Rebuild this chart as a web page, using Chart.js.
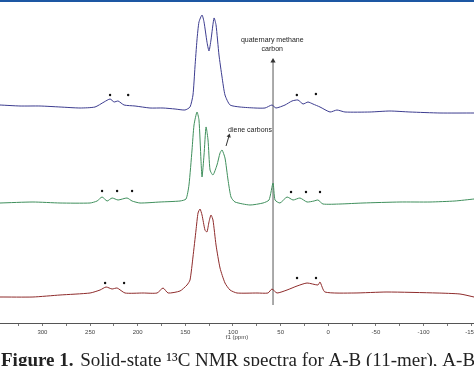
<!DOCTYPE html>
<html>
<head>
<meta charset="utf-8">
<script src="https://cdn.jsdelivr.net/npm/chart.js@4.4.1/dist/chart.umd.min.js"></script>
<style>
  body { margin: 0; background: #fff; }
  #wrap { width: 474px; height: 366px; position: relative; }
</style>
</head>
<body>
<div id="wrap"><canvas id="nmr"></canvas></div>
<script>
// spectra: [ppm, height above the axis] (stacked traces)
const blueTrace = [
  [344.5, 218], [323.5, 217], [302.5, 217], [281.5, 216], [260.5, 215], [244.8, 216],
  [235.3, 221], [229.0, 224], [224.8, 221], [220.6, 222], [214.3, 218], [202.8, 217],
  [187.1, 215], [173.4, 215], [160.8, 214], [150.4, 213], [145.1, 216], [142.0, 228],
  [139.9, 256], [137.8, 283], [135.7, 301], [132.5, 308], [130.4, 301], [127.3, 281],
  [125.2, 272], [123.1, 283], [119.9, 305], [117.8, 298], [114.7, 268], [111.5, 246],
  [108.4, 228], [103.1, 218], [92.6, 216], [76.9, 215], [66.4, 215], [59.1, 218],
  [54.9, 215], [45.4, 218], [38.1, 222], [31.8, 223], [26.5, 219], [21.3, 221],
  [16.1, 219], [8.7, 216], [-1.8, 211], [-9.1, 213], [-17.5, 211], [-43.7, 211],
  [-64.7, 212], [-85.7, 211], [-117.2, 210], [-152.9, 210]
];
const greenTrace = [
  [344.5, 120], [309.9, 121], [281.5, 120], [250.0, 120], [242.6, 122], [237.4, 126],
  [232.1, 122], [226.9, 125], [220.6, 123], [211.2, 125], [205.9, 122], [197.6, 120],
  [176.6, 121], [155.6, 122], [149.3, 124], [146.2, 138], [143.0, 173], [140.9, 198],
  [137.8, 211], [135.7, 203], [133.6, 163], [132.5, 146], [130.4, 168], [128.3, 196],
  [126.2, 183], [124.1, 153], [121.0, 148], [116.8, 158], [113.6, 170], [111.5, 173],
  [108.4, 165], [105.2, 143], [102.1, 126], [97.9, 121], [82.2, 118], [68.5, 120],
  [62.2, 123], [58.0, 140], [55.9, 123], [50.7, 120], [43.3, 126], [37.0, 123],
  [29.7, 125], [22.3, 121], [15.0, 122], [10.8, 123], [5.6, 119], [-12.3, 119],
  [-36.4, 120], [-75.2, 121], [-106.7, 121], [-132.9, 122], [-152.9, 124]
];
const redTrace = [
  [344.5, 26], [309.9, 26], [281.5, 28], [250.0, 30], [239.5, 33], [233.2, 36],
  [226.9, 34], [221.6, 35], [213.3, 30], [194.4, 30], [179.7, 30], [173.4, 35],
  [168.1, 30], [155.6, 32], [148.3, 38], [145.1, 43], [142.0, 66], [138.8, 93],
  [136.7, 110], [134.6, 114], [132.5, 108], [129.4, 93], [127.3, 91], [125.2, 101],
  [123.1, 108], [121.0, 103], [117.8, 78], [113.6, 55], [108.4, 40], [103.1, 33],
  [95.8, 30], [74.8, 30], [63.3, 30], [59.1, 34], [53.8, 30], [43.3, 33],
  [32.8, 37], [22.3, 40], [10.8, 38], [8.7, 41], [3.5, 31], [-26.9, 30],
  [-61.6, 31], [-114.1, 30], [-138.2, 29], [-152.9, 26]
];
// spinning sidebands (asterisks)
const blueStars = [[229.0, 228], [210.0, 228], [33.0, 228], [13.0, 229]];
const greenStars = [[237.4, 132], [221.6, 132], [205.9, 132], [39.1, 131], [23.4, 131], [8.7, 131]];
const redStars = [[234.2, 40], [214.3, 40], [32.8, 45], [12.9, 45]];
// annotation arrows
const quaternaryArrow = [[58.0, 18], [58.0, 262]];
const dieneArrow = [[107.3, 177], [104.2, 187]];
// x axis
const tickValues = [325, 300, 275, 250, 225, 200, 175, 150, 125, 100, 75, 50, 25, 0, -25, -50, -75, -100, -125, -150];
const tickLabels = [300, 250, 200, 150, 100, 50, 0, -50, -100, -150];

const toXY = arr => arr.map(p => ({ x: p[0], y: p[1] }));

const traceStyle = (color) => ({
  borderColor: color, borderWidth: 1, pointRadius: 0, fill: false, tension: 0.2
});

const overlay = {
  id: 'overlay',
  afterDraw(chart) {
    const ctx = chart.ctx;
    const xs = chart.scales.x, ys = chart.scales.y;
    ctx.save();
    // top band
    ctx.fillStyle = '#1d57a3';
    ctx.fillRect(0, 0, chart.width, 2);
    // annotation text
    ctx.fillStyle = '#222';
    ctx.font = '7px "Liberation Sans", Arial, sans-serif';
    ctx.textAlign = 'center';
    ctx.textBaseline = 'middle';
    ctx.fillText('quaternary methane', xs.getPixelForValue(58.8), ys.getPixelForValue(283));
    ctx.fillText('carbon', xs.getPixelForValue(58.8), ys.getPixelForValue(274));
    ctx.textAlign = 'left';
    ctx.fillText('diene carbons', xs.getPixelForValue(105.2), ys.getPixelForValue(193));
    // caption
    ctx.textBaseline = 'alphabetic';
    ctx.fillStyle = '#222';
    ctx.font = 'bold 19px "Liberation Serif", serif';
    ctx.fillText('Figure 1.', 1, 366);
    let w = ctx.measureText('Figure 1. ').width;
    ctx.font = '19px "Liberation Serif", serif';
    ctx.fillText('Solid-state \u00b9\u00b3C NMR spectra for A-B (11-mer), A-B', 3 + w, 366);
    ctx.restore();
  }
};

new Chart(document.getElementById('nmr'), {
  type: 'line',
  data: {
    datasets: [
      Object.assign({ data: toXY(blueTrace) }, traceStyle('#3c3c8f')),
      Object.assign({ data: toXY(greenTrace) }, traceStyle('#3f8f5c')),
      Object.assign({ data: toXY(redTrace) }, traceStyle('#8e2b2b')),
      {
        data: toXY(quaternaryArrow), borderColor: '#555', borderWidth: 1,
        pointRadius: [0, 3], pointStyle: 'triangle', pointBackgroundColor: '#333', pointBorderWidth: 0
      },
      {
        data: toXY(dieneArrow), borderColor: '#333', borderWidth: 1,
        pointRadius: [0, 2.5], pointStyle: 'triangle', pointRotation: 17,
        pointBackgroundColor: '#333', pointBorderWidth: 0
      },
      {
        type: 'scatter', data: toXY(blueStars.concat(greenStars, redStars)),
        pointRadius: 1.2, pointBackgroundColor: '#111', pointBorderWidth: 0, showLine: false
      }
    ]
  },
  options: {
    responsive: true,
    maintainAspectRatio: false,
    animation: false,
    layout: { autoPadding: false, padding: { top: 0, left: 0, right: 0, bottom: 25 } },
    plugins: { legend: { display: false }, tooltip: { enabled: false } },
    scales: {
      x: {
        type: 'linear', reverse: true, min: -152.9, max: 344.5,
        afterBuildTicks: (scale) => { scale.ticks = tickValues.map(v => ({ value: v })); },
        afterFit: (scale) => {
          scale.height = 18;
          scale.paddingLeft = 0;
          scale.paddingRight = 0;
        },
        border: { color: '#555', width: 1 },
        grid: { drawOnChartArea: false, drawTicks: true, tickLength: 3, color: '#777' },
        ticks: {
          autoSkip: false, maxRotation: 0, padding: 3,
          font: { size: 6, family: '"Liberation Sans", Arial, sans-serif' }, color: '#444',
          callback: (v) => tickLabels.includes(v) ? String(v) : ''
        },
        title: {
          display: true, text: 'f1 (ppm)', padding: 0,
          font: { size: 6, family: '"Liberation Sans", Arial, sans-serif' }, color: '#444'
        }
      },
      y: { type: 'linear', display: false, min: 0, max: 323 }
    }
  },
  plugins: [overlay]
});
</script>
</body>
</html>
